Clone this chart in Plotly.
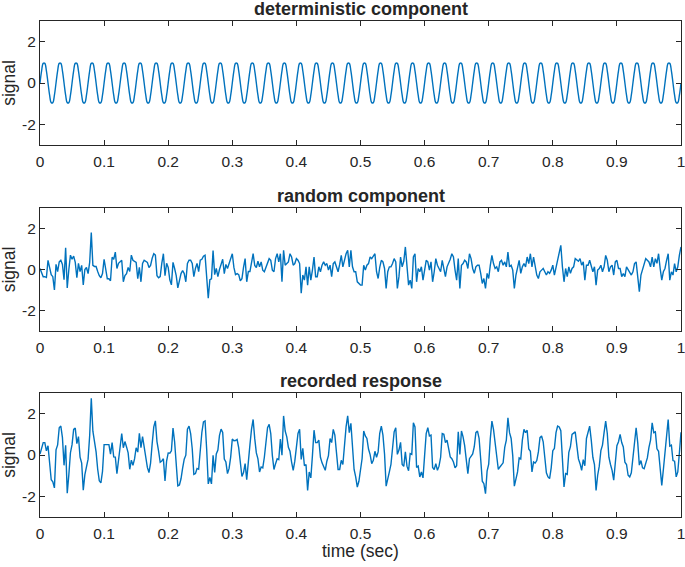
import plotly.graph_objects as go

# ---------------- data ----------------
sample_step = 0.0025          # seconds between samples
n_samples = 401
sample_times = [i * sample_step for i in range(n_samples)]

# deterministic component: 40 cycles, values read per sample
deterministic_values = [
    0, 0.59, 0.95, 0.95, 0.59, 0, -0.59, -0.95, -0.95, -0.59,
    0, 0.59, 0.95, 0.95, 0.59, 0, -0.59, -0.95, -0.95, -0.59,
    0, 0.59, 0.95, 0.95, 0.59, 0, -0.59, -0.95, -0.95, -0.59,
    0, 0.59, 0.95, 0.95, 0.59, 0, -0.59, -0.95, -0.95, -0.59,
    0, 0.59, 0.95, 0.95, 0.59, 0, -0.59, -0.95, -0.95, -0.59,
    0, 0.59, 0.95, 0.95, 0.59, 0, -0.59, -0.95, -0.95, -0.59,
    0, 0.59, 0.95, 0.95, 0.59, 0, -0.59, -0.95, -0.95, -0.59,
    0, 0.59, 0.95, 0.95, 0.59, 0, -0.59, -0.95, -0.95, -0.59,
    0, 0.59, 0.95, 0.95, 0.59, 0, -0.59, -0.95, -0.95, -0.59,
    0, 0.59, 0.95, 0.95, 0.59, 0, -0.59, -0.95, -0.95, -0.59,
    0, 0.59, 0.95, 0.95, 0.59, 0, -0.59, -0.95, -0.95, -0.59,
    0, 0.59, 0.95, 0.95, 0.59, 0, -0.59, -0.95, -0.95, -0.59,
    0, 0.59, 0.95, 0.95, 0.59, 0, -0.59, -0.95, -0.95, -0.59,
    0, 0.59, 0.95, 0.95, 0.59, 0, -0.59, -0.95, -0.95, -0.59,
    0, 0.59, 0.95, 0.95, 0.59, 0, -0.59, -0.95, -0.95, -0.59,
    0, 0.59, 0.95, 0.95, 0.59, 0, -0.59, -0.95, -0.95, -0.59,
    0, 0.59, 0.95, 0.95, 0.59, 0, -0.59, -0.95, -0.95, -0.59,
    0, 0.59, 0.95, 0.95, 0.59, 0, -0.59, -0.95, -0.95, -0.59,
    0, 0.59, 0.95, 0.95, 0.59, 0, -0.59, -0.95, -0.95, -0.59,
    0, 0.59, 0.95, 0.95, 0.59, 0, -0.59, -0.95, -0.95, -0.59,
    0, 0.59, 0.95, 0.95, 0.59, 0, -0.59, -0.95, -0.95, -0.59,
    0, 0.59, 0.95, 0.95, 0.59, 0, -0.59, -0.95, -0.95, -0.59,
    0, 0.59, 0.95, 0.95, 0.59, 0, -0.59, -0.95, -0.95, -0.59,
    0, 0.59, 0.95, 0.95, 0.59, 0, -0.59, -0.95, -0.95, -0.59,
    0, 0.59, 0.95, 0.95, 0.59, 0, -0.59, -0.95, -0.95, -0.59,
    0, 0.59, 0.95, 0.95, 0.59, 0, -0.59, -0.95, -0.95, -0.59,
    0, 0.59, 0.95, 0.95, 0.59, 0, -0.59, -0.95, -0.95, -0.59,
    0, 0.59, 0.95, 0.95, 0.59, 0, -0.59, -0.95, -0.95, -0.59,
    0, 0.59, 0.95, 0.95, 0.59, 0, -0.59, -0.95, -0.95, -0.59,
    0, 0.59, 0.95, 0.95, 0.59, 0, -0.59, -0.95, -0.95, -0.59,
    0, 0.59, 0.95, 0.95, 0.59, 0, -0.59, -0.95, -0.95, -0.59,
    0, 0.59, 0.95, 0.95, 0.59, 0, -0.59, -0.95, -0.95, -0.59,
    0, 0.59, 0.95, 0.95, 0.59, 0, -0.59, -0.95, -0.95, -0.59,
    0, 0.59, 0.95, 0.95, 0.59, 0, -0.59, -0.95, -0.95, -0.59,
    0, 0.59, 0.95, 0.95, 0.59, 0, -0.59, -0.95, -0.95, -0.59,
    0, 0.59, 0.95, 0.95, 0.59, 0, -0.59, -0.95, -0.95, -0.59,
    0, 0.59, 0.95, 0.95, 0.59, 0, -0.59, -0.95, -0.95, -0.59,
    0, 0.59, 0.95, 0.95, 0.59, 0, -0.59, -0.95, -0.95, -0.59,
    0, 0.59, 0.95, 0.95, 0.59, 0, -0.59, -0.95, -0.95, -0.59,
    0, 0.59, 0.95, 0.95, 0.59, 0, -0.59, -0.95, -0.95, -0.59,
    0,
]

# random component, values read per sample
random_values = [
    0.05, -0.2, -0.35, -0.35, -0.39, 0.45, 0.1, -0.25, -0.35, -1.0,
    0.25, -0.1, 0.37, 0.45, 0.25, -0.5, 1.06, -0.9, 0.0, 0.7,
    0.5, 0.65, 0.35, -0.4, 0.3, -0.1, 0.2, -0.75, 0.0, 0.1,
    -0.2, 0.35, 1.8, 0.2, 0.15, 0.15, -0.1, -0.3, -0.4, -0.2,
    0.5, -0.1, -0.45, -0.45, -0.55, 0.6, 0.5, 0.85, 0.05, 0.3,
    0.4, 0.45, -0.6, -0.3, -0.2, 0.1, -0.1, 0.7, 0.45, 0.4,
    0.35, -0.45, 0.1, -0.6, 0.3, 0.45, 0.4, 0.35, 0.1, 0.2,
    0.55, 0.77, 0.7, -0.3, -0.4, -0.35, 0.3, 0.77, -0.3, 0.3,
    0.1, -0.5, -0.75, 0.35, 0.05, -0.3, -0.9, -0.5, -0.2, -0.05,
    -0.2, -0.6, 0.3, 0.45, 0.45, 0.3, -0.35, 0.05, 0.3, -0.1,
    0.45, 0.5, 0.65, 0.7, -0.3, -1.4, -0.5, -0.45, 0.93, -0.25,
    0.05, -0.35, 0.0, 0.3, 0.5, -0.2, 0.25, 0.05, 0.3, 0.5,
    0.77, 0.1, -0.25, -0.2, -0.25, -0.55, -0.45, 0.1, 0.53, -0.6,
    -0.1, -0.1, 0.3, 0.77, 0.2, 0.1, 0.4, 0.13, 0.37, -0.03,
    -0.11, 0.13, 0.37, 0.53, 0.45, -0.03, -0.11, 0.53, 0.77, 0.37,
    0.77, -0.6, 0.94, 0.21, 0.29, 0.37, 0.77, 0.61, 0.21, 0.29,
    0.53, 0.45, 0.29, -1.16, -0.27, -0.52, 0.13, -0.76, 0.13, -0.52,
    -0.03, 0.61, -0.35, -0.35, 0.13, -0.11, 0.21, 0.37, 0.21, 0.29,
    -0.03, 0.21, -0.35, 0.29, 0.37, 0.13, -0.11, 0.25, 0.69, 0.13,
    0.53, 0.77, 0.94, 0.13, 0.94, 0.13, -0.11, -0.11, -0.6, -0.68,
    -0.76, -0.76, 0.21, -0.03, 0.21, 0.29, 0.61, 0.53, 0.69, 0.77,
    -0.11, -0.44, 0.1, 0.45, 0.37, 0.05, -0.92, -0.11, 0.13, 0.13,
    0.29, 0.53, 0.37, -0.92, -0.35, 0.61, 0.13, 0.4, 1.1, 0.05,
    -0.76, -0.52, -0.92, 0.61, 0.77, -0.6, 0.05, -0.11, 0.13, -0.52,
    -0.03, 0.45, 0.37, -0.03, 0.37, -0.6, -0.11, 0.53, 0.21, 0.05,
    -0.11, 0.45, 0.05, -0.35, 0.13, 0.29, 0.5, 0.77, 0.61, -0.03,
    -0.52, 0.53, -0.92, 0.21, 0.29, 0.45, 0.37, 0.05, 0.77, 0.53,
    0.05, -0.19, 0.13, 0.21, 0.21, -0.19, -0.68, -0.44, -0.92, -0.19,
    -0.44, 0.2, 0.69, 0.29, 0.05, 0.13, -0.11, 0.37, 0.45, 0.21,
    0.37, 0.13, 0.85, 0.13, 0.21, -0.03, -0.92, -0.27, 0.13, 0.45,
    -0.19, 0.13, 0.29, 0.13, 0.61, 0.29, 0.77, 0.13, 0.61, 0.2,
    -0.27, -0.44, -0.11, -0.03, 0.05, -0.11, -0.27, -0.11, -0.19, -0.03,
    0.21, -0.27, 0.13, 0.45, 0.77, 1.18, 0.13, -0.6, 0.05, -0.35,
    0.13, -0.19, 0.05, 0.13, 0.53, 0.45, 0.4, 0.53, 0.21, 0.37,
    -0.52, 0.21, 0.21, 0.45, 0.13, -0.11, 0.13, -0.76, -0.03, 0.05,
    0.21, -0.11, 0.13, 0.69, 0.45, -0.11, 0.13, 0.21, -0.27, 0.37,
    0.45, 0.05, 0.05, -0.35, -0.2, -0.35, 0.13, -0.03, -0.11, -0.27,
    -0.11, 0.29, 0.37, -0.35, -1.08, -0.27, -0.03, 0.29, 0.53, 0.45,
    0.37, 0.13, 0.61, 0.13, 0.53, 0.3, 0.77, 0.05, -0.52, -0.11,
    0.05, 0.45, 0.77, -0.52, -0.11, -0.27, 0.29, -0.11, 0.13, 0.7,
    1.1,
]

# recorded response = deterministic + random (sample by sample)
recorded_values = [d + r for d, r in zip(deterministic_values, random_values)]

panel_titles = ["deterministic component", "random component", "recorded response"]
x_tick_values = [0, 0.1, 0.2, 0.3, 0.4, 0.5, 0.6, 0.7, 0.8, 0.9, 1]
x_tick_labels = ["0", "0.1", "0.2", "0.3", "0.4", "0.5", "0.6", "0.7", "0.8", "0.9", "1"]
y_tick_values = [-2, 0, 2]
y_tick_labels = ["-2", "0", "2"]
x_label = "time (sec)"
y_label = "signal"

# ---------------- figure ----------------
W, H = 685, 567
LINE = "#0072BD"
INK = "#262626"
FONT = "Liberation Sans, Arial, Helvetica, sans-serif"

# panel vertical extents in pixels (top, bottom)
panels_px = [(21, 145), (208, 331), (393, 517)]
title_px = [9, 196, 381]

fig = go.Figure()
series = [deterministic_values, random_values, recorded_values]
for i, vals in enumerate(series):
    fig.add_trace(go.Scatter(
        x=sample_times[:len(vals)], y=vals, mode="lines",
        line=dict(color=LINE, width=1.4,
                  shape="spline" if i == 0 else "linear", smoothing=1.0),
        xaxis="x" if i == 0 else f"x{i+1}",
        yaxis="y" if i == 0 else f"y{i+1}",
        showlegend=False, hoverinfo="skip", cliponaxis=True))

axis_common = dict(
    showline=True, linecolor=INK, linewidth=1, mirror="ticks",
    ticks="inside", ticklen=5, tickwidth=1, tickcolor=INK,
    showgrid=False, zeroline=False,
    tickfont=dict(family=FONT, size=15.5, color=INK),
    ticklabeloverflow="allow",
)

layout = dict(
    width=W, height=H,
    margin=dict(l=40, r=2, t=0, b=0, pad=0),
    paper_bgcolor="white", plot_bgcolor="white",
    showlegend=False,
    annotations=[],
)
for i, (top, bot) in enumerate(panels_px):
    sfx = "" if i == 0 else str(i + 1)
    dom = [1 - bot / H, 1 - top / H]
    layout[f"xaxis{sfx}"] = dict(
        axis_common, domain=[0, 1], range=[0, 1],
        tickmode="array", tickvals=x_tick_values, ticktext=x_tick_labels,
        ticklabelstandoff=2,
        anchor=f"y{sfx}")
    layout[f"yaxis{sfx}"] = dict(
        axis_common, domain=dom, range=[-3, 3],
        tickmode="array", tickvals=y_tick_values, ticktext=y_tick_labels,
        anchor=f"x{sfx}")
    layout["annotations"].append(dict(
        text=f"<b>{panel_titles[i]}</b>", xref="paper", yref="paper",
        x=0.5, y=1 - title_px[i] / H, xanchor="center", yanchor="middle",
        showarrow=False, font=dict(family=FONT, size=18, color=INK)))
    layout["annotations"].append(dict(
        text=y_label, xref="paper", yref="paper",
        x=(8.7 - 40) / 643, y=1 - (top + bot) / 2 / H,
        xanchor="center", yanchor="middle", textangle=-90,
        showarrow=False, font=dict(family=FONT, size=17.5, color=INK)))

layout["annotations"].append(dict(
    text=x_label, xref="paper", yref="paper",
    x=0.5, y=1 - 551 / H, xanchor="center", yanchor="middle",
    showarrow=False, font=dict(family=FONT, size=17.5, color=INK)))

fig.update_layout(layout)
fig.write_html("out.html", include_plotlyjs=True)
